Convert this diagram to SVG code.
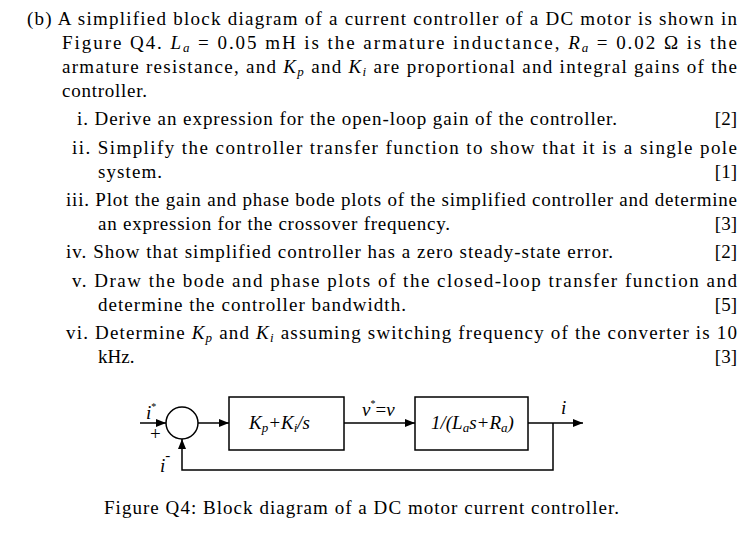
<svg xmlns="http://www.w3.org/2000/svg" width="750" height="538" viewBox="0 0 750 538">
<defs><marker id="a" markerWidth="10" markerHeight="8" refX="10" refY="4" orient="auto" markerUnits="userSpaceOnUse"><path d="M0,0L10,4L0,8z" fill="#000"/></marker></defs>
<style>
text{font-family:"Liberation Serif",serif;font-size:19px;fill:#000}
.r{text-anchor:end}
.d{font-size:19px}
.l{stroke:#000;stroke-width:1.5;fill:none}
</style>
<rect width="750" height="538" fill="#fff"/>
<text x="27" y="25" textLength="710" lengthAdjust="spacing">(b) A simplified block diagram of a current controller of a DC motor is shown in</text>
<text x="62" y="49" textLength="675" lengthAdjust="spacing">Figure Q4.  <tspan font-style="italic">L</tspan><tspan font-size="13" font-style="italic" dy="3">a</tspan><tspan dy="-3"> = 0.05 mH is the armature inductance, </tspan><tspan font-style="italic">R</tspan><tspan font-size="13" font-style="italic" dy="3">a</tspan><tspan dy="-3"> = 0.02 Ω is the</tspan></text>
<text x="62" y="73" textLength="675" lengthAdjust="spacing">armature resistance, and <tspan font-style="italic">K</tspan><tspan font-size="13" font-style="italic" dy="3">p</tspan><tspan dy="-3"> and </tspan><tspan font-style="italic">K</tspan><tspan font-size="13" font-style="italic" dy="3">i</tspan><tspan dy="-3"> are proportional and integral gains of the</tspan></text>
<text x="62" y="97" textLength="85" lengthAdjust="spacing">controller.</text>
<text x="77" y="125" textLength="540" lengthAdjust="spacing">i. Derive an expression for the open-loop gain of the controller.</text><text x="737" y="125" class="r">[2]</text>
<text x="72" y="154" textLength="665" lengthAdjust="spacing">ii. Simplify the controller transfer function to show that it is a single pole</text>
<text x="98" y="178" textLength="64" lengthAdjust="spacing">system.</text><text x="737" y="178" class="r">[1]</text>
<text x="66" y="206" textLength="671" lengthAdjust="spacing">iii. Plot the gain and phase bode plots of the simplified controller and determine</text>
<text x="98" y="230" textLength="352" lengthAdjust="spacing">an expression for the crossover frequency.</text><text x="737" y="230" class="r">[3]</text>
<text x="66" y="258" textLength="547" lengthAdjust="spacing">iv. Show that simplified controller has a zero steady-state error.</text><text x="737" y="258" class="r">[2]</text>
<text x="72" y="287" textLength="665" lengthAdjust="spacing">v. Draw the bode and phase plots of the closed-loop transfer function and</text>
<text x="98" y="311" textLength="308" lengthAdjust="spacing">determine the controller bandwidth.</text><text x="737" y="311" class="r">[5]</text>
<text x="66" y="339" textLength="671" lengthAdjust="spacing">vi. Determine <tspan font-style="italic">K</tspan><tspan font-size="13" font-style="italic" dy="3">p</tspan><tspan dy="-3"> and </tspan><tspan font-style="italic">K</tspan><tspan font-size="13" font-style="italic" dy="3">i</tspan><tspan dy="-3"> assuming switching frequency of the converter is 10</tspan></text>
<text x="98" y="363">kHz.</text><text x="737" y="363" class="r">[3]</text>
<g id="sum"><circle cx="182" cy="423" r="16" class="l"/></g>
<g id="b1"><rect x="229" y="397" width="115" height="53" class="l"/><text x="249" y="429" font-style="italic" class="d">K<tspan font-size="13" dy="3">p</tspan><tspan dy="-3">+K</tspan><tspan font-size="13" dy="3">i</tspan><tspan dy="-3">/s</tspan></text></g>
<g id="b2"><rect x="415" y="397" width="113" height="53" class="l"/><text x="431" y="429" font-style="italic" class="d">1/(L<tspan font-size="13" dy="3">a</tspan><tspan dy="-3">s+R</tspan><tspan font-size="13" dy="3">a</tspan><tspan dy="-3">)</tspan></text></g>
<g id="conn">
<path d="M140,423H166" class="l" marker-end="url(#a)"/>
<path d="M198,423H229" class="l" marker-end="url(#a)"/>
<path d="M344,423H415" class="l" marker-end="url(#a)"/>
<path d="M528,423H583" class="l" marker-end="url(#a)"/>
<path d="M553,423V470H182V439" class="l" marker-end="url(#a)"/>
</g>
<g class="d" font-style="italic">
<text x="146" y="419">i<tspan font-size="10" dy="-9" font-style="normal">*</tspan></text>
<text x="150" y="440" font-style="normal" font-size="17">+</text>
<text x="160" y="472">i<tspan font-size="15" dy="-12" font-style="normal">-</tspan></text>
<text x="362" y="416">v<tspan font-size="10" dy="-9" font-style="normal">*</tspan><tspan dy="9" font-style="normal">=</tspan>v</text>
<text x="561" y="414">i</text>
</g>
<text x="104" y="514" textLength="515" lengthAdjust="spacing">Figure Q4: Block diagram of a DC motor current controller.</text>
</svg>
